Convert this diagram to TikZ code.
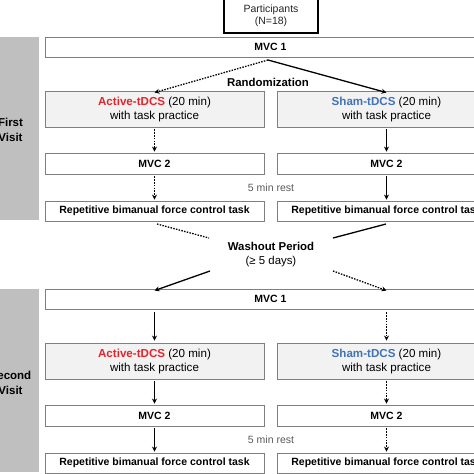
\documentclass[tikz,border=0pt]{standalone}
\usepackage{fontspec}
\setmainfont{Liberation Sans}
\usetikzlibrary{arrows.meta}
\definecolor{boxline}{HTML}{7F7F7F}
\definecolor{boxfill}{HTML}{F2F2F2}
\definecolor{barfill}{HTML}{BFBFBF}
\definecolor{actred}{HTML}{E3262C}
\definecolor{shamblue}{HTML}{4273B6}
\definecolor{resttext}{HTML}{595959}
\tikzset{
  plainbox/.style={draw=boxline, line width=0.9pt, fill=white, inner sep=0pt,
    font=\fontsize{10.5}{12}\selectfont\bfseries},
  widebox/.style={plainbox, minimum width=451pt, minimum height=20pt},
  colbox/.style={plainbox, minimum width=219pt, minimum height=20pt},
  stimbox/.style={draw=boxline, line width=0.9pt, fill=boxfill, inner sep=0pt,
    minimum width=219pt, minimum height=36pt, align=center,
    font=\fontsize{11.6}{14}\selectfont},
  partbox/.style={draw=black, line width=2pt, fill=white, inner sep=0pt,
    minimum width=94pt, minimum height=34pt, align=center,
    font=\fontsize{10.5}{12}\selectfont, text=black!85},
  visitbar/.style={fill=barfill, draw=none},
  visitlabel/.style={align=center, font=\fontsize{11.5}{15}\selectfont\bfseries},
  midlabel/.style={align=center, font=\fontsize{11.4}{14}\selectfont},
  restlabel/.style={font=\fontsize{10.5}{12}\selectfont, text=resttext},
  solidarrow/.style={line width=1.3pt, -{Stealth[length=5pt,width=5pt]}},
  dotarrow/.style={line width=1.3pt, dash pattern=on 1.5pt off 1.3pt, -{Stealth[length=5pt,width=5pt]}},
  solidline/.style={line width=1.3pt},
  dotline/.style={line width=1.3pt, dash pattern=on 1.5pt off 1.3pt},
}
\begin{document}
\begin{tikzpicture}[x=1pt,y=-1pt]
\useasboundingbox (0,0) rectangle (474,474);
\clip (0,0) rectangle (474,474);
% visit bars
\fill[visitbar] (0,37) rectangle (39,220);
\fill[visitbar] (0,289) rectangle (39,472);
\node[visitlabel] (v1) at (10.5,129.5) {First\\Visit};
\node[visitlabel] (v2) at (10.5,382.5) {Second\\Visit};
% participants
\node[partbox] (part) at (271,16) {Participants\\(N=18)};
% first visit
\node[widebox] (m1a) at (270.5,47) {MVC 1};
\node[midlabel, font=\fontsize{11.4}{14}\selectfont\bfseries] (rand) at (268,82) {Randomization};
\node[stimbox] (act1) at (154.5,109) {\textcolor{actred}{\bfseries Active-tDCS} (20 min)\\with task practice};
\node[stimbox] (sham1) at (386.5,109) {\textcolor{shamblue}{\bfseries Sham-tDCS} (20 min)\\with task practice};
\node[colbox, minimum height=21pt] (m2a) at (154.5,163.5) {MVC 2};
\node[colbox, minimum height=21pt] (m2b) at (386.5,163.5) {MVC 2};
\node[restlabel] (rest1) at (271,188) {5 min rest};
\node[colbox] (rep1) at (154.5,211) {Repetitive bimanual force control task};
\node[colbox] (rep2) at (386.5,211) {Repetitive bimanual force control task};
% washout
\node[midlabel] (wash) at (271,255) {\textbf{Washout Period}\\(≥ 5 days)};
% second visit
\node[widebox] (m1b) at (270.5,299) {MVC 1};
\node[stimbox] (act2) at (154.5,361) {\textcolor{actred}{\bfseries Active-tDCS} (20 min)\\with task practice};
\node[stimbox] (sham2) at (386.5,361) {\textcolor{shamblue}{\bfseries Sham-tDCS} (20 min)\\with task practice};
\node[colbox, minimum height=21pt] (m2c) at (154.5,415.5) {MVC 2};
\node[colbox, minimum height=21pt] (m2d) at (386.5,415.5) {MVC 2};
\node[restlabel] (rest2) at (271,440) {5 min rest};
\node[colbox] (rep3) at (154.5,463) {Repetitive bimanual force control task};
\node[colbox] (rep4) at (386.5,463) {Repetitive bimanual force control task};
% coordinates
\coordinate (split) at (268,60);
\coordinate (wl1) at (157,224);
\coordinate (wl2) at (209,238);
\coordinate (wr1) at (386,224);
\coordinate (wr2) at (333,238);
\coordinate (wl3) at (210,271);
\coordinate (wr3) at (333,271);
% first visit connectors
\draw[dotarrow] (split) -- ([yshift=-2pt]act1.north);
\draw[solidarrow] (split) -- ([yshift=-2pt]sham1.north);
\draw[dotarrow, shorten <=2pt, shorten >=1pt] (act1.south) -- (m2a.north);
\draw[solidarrow, shorten <=2pt, shorten >=1pt] (sham1.south) -- (m2b.north);
\draw[dotarrow, shorten <=2pt, shorten >=1pt] (m2a.south) -- (rep1.north);
\draw[solidarrow, shorten <=2pt, shorten >=1pt] (m2b.south) -- (rep2.north);
% washout connectors
\draw[dotline] (wl1) -- (wl2);
\draw[solidline] (wr1) -- (wr2);
\draw[solidarrow] (wl3) -- ([yshift=-2pt]m1b.north -| act2.north);
\draw[dotarrow] (wr3) -- ([yshift=-2pt]m1b.north -| sham2.north);
% second visit connectors
\draw[solidarrow, shorten <=3pt, shorten >=2pt] (m1b.south -| act2.north) -- (act2.north);
\draw[dotarrow, shorten <=3pt, shorten >=2pt] (m1b.south -| sham2.north) -- (sham2.north);
\draw[solidarrow, shorten <=2pt, shorten >=1pt] (act2.south) -- (m2c.north);
\draw[dotarrow, shorten <=2pt, shorten >=1pt] (sham2.south) -- (m2d.north);
\draw[solidarrow, shorten <=2pt, shorten >=1pt] (m2c.south) -- (rep3.north);
\draw[dotarrow, shorten <=2pt, shorten >=1pt] (m2d.south) -- (rep4.north);
\end{tikzpicture}
\end{document}
